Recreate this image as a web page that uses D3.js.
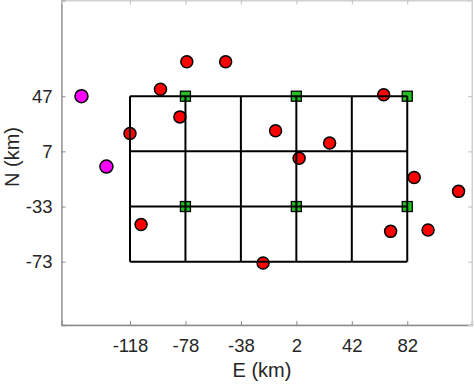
<!DOCTYPE html>
<html><head><meta charset="utf-8">
<script src="https://d3js.org/d3.v7.min.js"></script>
<style>html,body{margin:0;padding:0;background:#fff;}svg{display:block;}</style>
</head><body>
<script>
// Data
const xTicks = [-118, -78, -38, 2, 42, 82];
const yTicks = [47, 7, -33, -73];
const gridX = [-118, -78, -38, 2, 42, 82];
const gridY = [47, 7, -33, -73];
const redE = [-77, -49, -96, -82, -118, -13, 26, 4, 65, 87, 119, -110, -22, 70, 97];
const redN = [72, 72, 52, 32, 20, 22, 13, 2, 48, -12, -22, -46, -74, -51, -50];
const magE = [-153, -135];
const magN = [47, -4];
const sqE = [-78, 2, 82, -78, 2, 82];
const sqN = [47, 47, 47, -33, -33, -33];

const W = 474, H = 384;
const svg = d3.select("body").append("svg").attr("width", W).attr("height", H);
const x = d3.scaleLinear().domain([-167.4, 128.7]).range([61.5, 472]);
const y = d3.scaleLinear().domain([-118.9, 116.4]).range([325, 0.5]);
const font = "'Liberation Sans', Arial, Helvetica, sans-serif";
const axisCol = "#8c8c8c";
const fmt = d => String(d);

// axes frame
svg.append("rect").attr("x", x.range()[0]).attr("y", y.range()[1])
  .attr("width", x.range()[1] - x.range()[0]).attr("height", y.range()[0] - y.range()[1])
  .attr("fill", "none").attr("stroke", "#d0d0d0").attr("stroke-width", 1);

const gBottom = svg.append("g").attr("transform", `translate(0,${y.range()[0]})`)
  .call(d3.axisBottom(x).tickValues(xTicks).tickSize(-4).tickPadding(14).tickFormat(fmt));
const gLeft = svg.append("g").attr("transform", `translate(${x.range()[0]},0)`)
  .call(d3.axisLeft(y).tickValues(yTicks).tickSize(-4).tickPadding(9).tickFormat(fmt));
const gTop = svg.append("g").attr("transform", `translate(0,${y.range()[1]})`)
  .call(d3.axisTop(x).tickValues(xTicks).tickSize(-4).tickFormat(""));
const gRight = svg.append("g").attr("transform", `translate(${x.range()[1]},0)`)
  .call(d3.axisRight(y).tickValues(yTicks).tickSize(-4).tickFormat(""));
[gBottom, gLeft].forEach(g => {
  g.select(".domain").attr("stroke", axisCol).attr("stroke-width", 1.3);
  g.selectAll(".tick line").attr("stroke", axisCol);
  g.selectAll("text").attr("fill", "#262626").style("font-family", font).style("font-size", "18.5px");
});
[gTop, gRight].forEach(g => {
  g.select(".domain").attr("stroke", "#d0d0d0");
  g.selectAll(".tick line").attr("stroke", "#c0c0c0");
});

// squares (under grid)
svg.append("g").selectAll("rect").data(sqE.map((e, i) => [e, sqN[i]])).join("rect")
  .attr("x", d => x(d[0]) - 5).attr("y", d => y(d[1]) - 5)
  .attr("width", 10).attr("height", 10)
  .attr("fill", "#22c022").attr("stroke", "#000").attr("stroke-width", 1.3);

// red points
svg.append("g").selectAll("circle").data(redE.map((e, i) => [e, redN[i]])).join("circle")
  .attr("cx", d => x(d[0])).attr("cy", d => y(d[1])).attr("r", 6)
  .attr("fill", "#ff0000").attr("stroke", "#000").attr("stroke-width", 1.5);

// magenta points
svg.append("g").selectAll("circle").data(magE.map((e, i) => [e, magN[i]])).join("circle")
  .attr("cx", d => x(d[0])).attr("cy", d => y(d[1])).attr("r", 6.5)
  .attr("fill", "#ff00ff").attr("stroke", "#000").attr("stroke-width", 1.5);

// grid lines on top
const grid = svg.append("g").attr("stroke", "#000").attr("stroke-width", 2);
grid.selectAll("line.v").data(gridX).join("line").attr("class", "v")
  .attr("x1", d => x(d)).attr("x2", d => x(d))
  .attr("y1", y(d3.max(gridY))).attr("y2", y(d3.min(gridY)));
grid.selectAll("line.h").data(gridY).join("line").attr("class", "h")
  .attr("y1", d => y(d)).attr("y2", d => y(d))
  .attr("x1", x(d3.min(gridX))).attr("x2", x(d3.max(gridX)));

// axis labels
svg.append("text").attr("x", 262).attr("y", 377).attr("text-anchor", "middle")
  .style("font-family", font).style("font-size", "20px").attr("fill", "#262626").text("E (km)");
svg.append("text").attr("transform", "translate(19,157) rotate(-90)").attr("text-anchor", "middle")
  .style("font-family", font).style("font-size", "20px").attr("fill", "#262626").text("N (km)");
</script>
</body></html>
